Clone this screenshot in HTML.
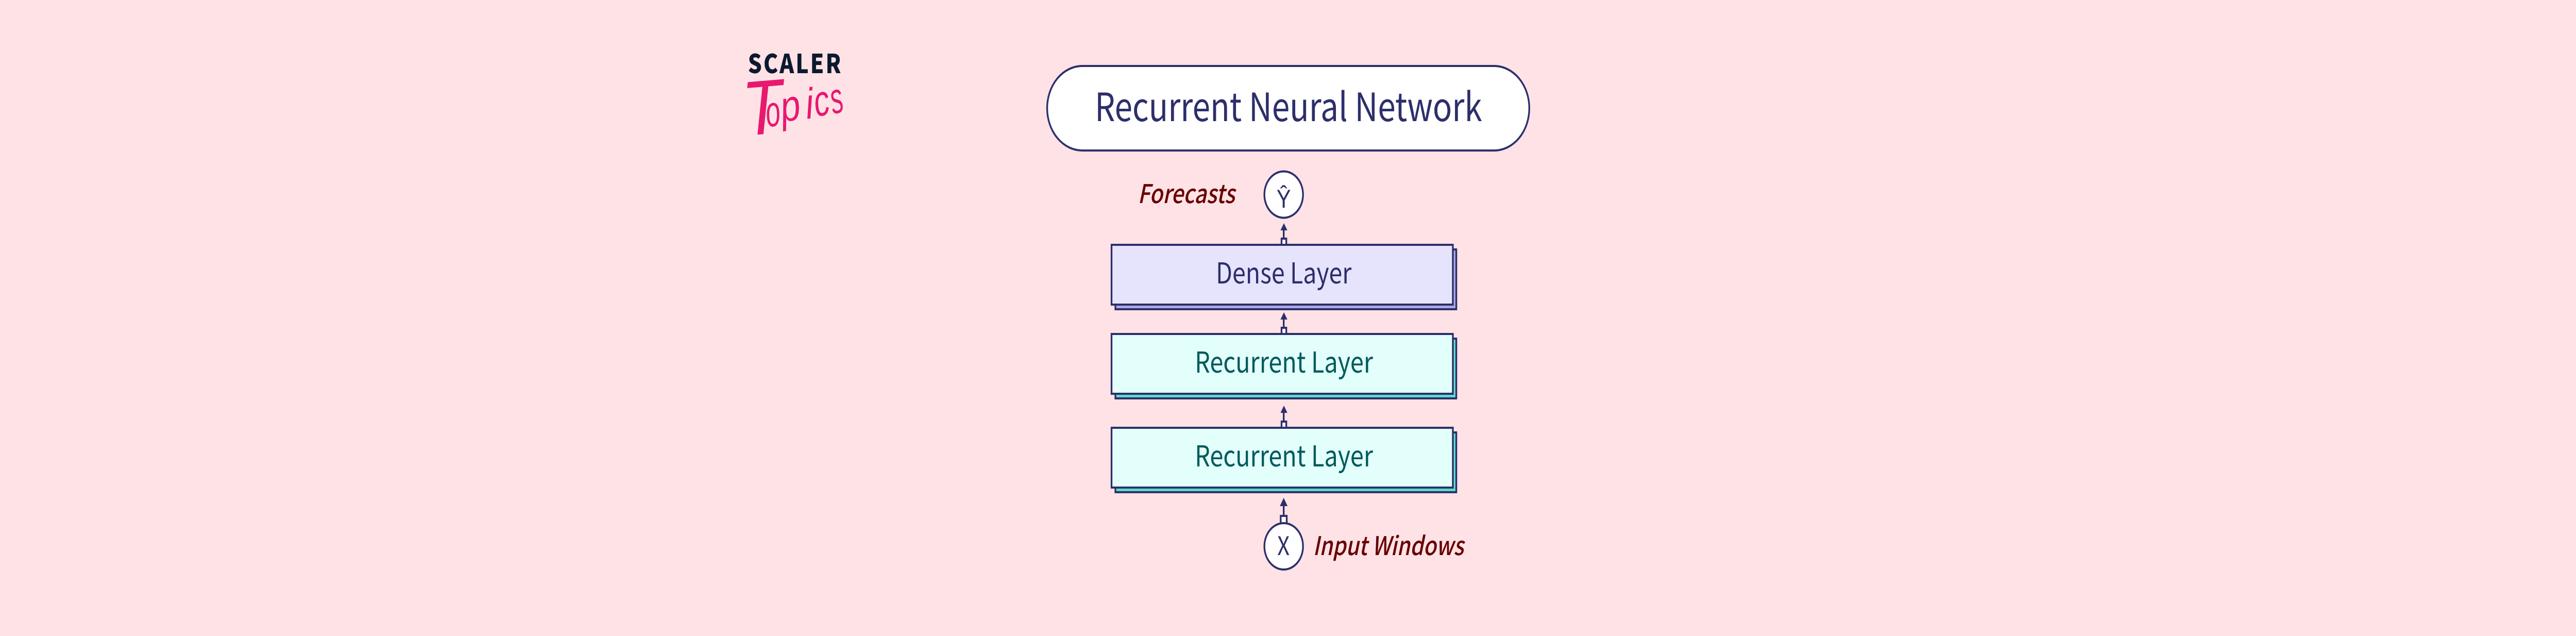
<!DOCTYPE html>
<html lang="en">
<head>
<meta charset="utf-8">
<title>Recurrent Neural Network</title>
<style>
html,body{margin:0;padding:0;width:100%;height:100%;overflow:hidden;background:#ffe2e6}
svg{display:block;width:100vw;height:100vh}
text{font-family:"Noto Sans CJK JP","Liberation Sans",sans-serif}
.s{font-family:"Liberation Sans",sans-serif;font-style:italic}
</style>
</head>
<body>
<svg xmlns="http://www.w3.org/2000/svg" viewBox="0 0 6000 1234" preserveAspectRatio="none">
<rect width="6000" height="1234" fill="#ffe2e6"/>

<!-- Logo -->
<text x="1742" y="142" font-size="51" font-weight="900" fill="#0b1a2e" textLength="217" lengthAdjust="spacing">SCALER</text>
<g fill="#e8186f">
  <text class="s" x="1729" y="260" font-size="150" transform="rotate(-4 1780 200)">T</text>
  <text class="s" x="1784" y="245" font-size="84" textLength="34" lengthAdjust="spacingAndGlyphs" transform="rotate(-8 1800 225)">o</text>
  <text class="s" x="1820" y="234" font-size="84" textLength="46" lengthAdjust="spacingAndGlyphs" transform="rotate(-10 1843 220)">p</text>
  <text class="s" x="1876" y="230" font-size="84" textLength="18" lengthAdjust="spacingAndGlyphs" transform="rotate(-6 1885 200)">i</text>
  <text class="s" x="1897" y="224" font-size="84" textLength="36" lengthAdjust="spacingAndGlyphs" transform="rotate(-12 1915 205)">c</text>
  <text class="s" x="1935" y="219" font-size="84" textLength="29" lengthAdjust="spacingAndGlyphs" transform="rotate(-14 1950 198)">s</text>
</g>

<!-- Title -->
<rect x="2439" y="128" width="1123" height="164" rx="82" ry="82" fill="#ffffff" stroke="#2d2f6b" stroke-width="4"/>
<text x="2550" y="235" font-size="76" fill="#2d2f6b" textLength="902" lengthAdjust="spacingAndGlyphs">Recurrent Neural Network</text>

<!-- Forecasts -->
<text x="2650" y="394" font-size="50" font-weight="500" font-style="italic" fill="#680000" textLength="226" lengthAdjust="spacingAndGlyphs">Forecasts</text>
<circle cx="2990" cy="377.5" r="45" fill="#ffffff" stroke="#2d2f6b" stroke-width="4"/>
<text x="2990" y="403" font-size="50" fill="#2d2f6b" text-anchor="middle">Ŷ</text>

<!-- Dense Layer -->
<rect x="2598" y="484" width="794" height="116" fill="#aca8e4" stroke="#2d2f6b" stroke-width="4"/>
<rect x="2589" y="475" width="795" height="116" fill="#e6e4fd" stroke="#2d2f6b" stroke-width="4"/>
<text x="2832" y="550" font-size="56" fill="#2d2f6b" textLength="316" lengthAdjust="spacingAndGlyphs">Dense Layer</text>

<!-- Recurrent Layer 1 -->
<rect x="2598" y="657" width="794" height="116" fill="#5bdccb" stroke="#2d2f6b" stroke-width="4"/>
<rect x="2589" y="648" width="795" height="116" fill="#e2fffb" stroke="#2d2f6b" stroke-width="4"/>
<text x="2783" y="723" font-size="56" fill="#005a5c" textLength="415" lengthAdjust="spacingAndGlyphs">Recurrent Layer</text>

<!-- Recurrent Layer 2 -->
<rect x="2598" y="839" width="794" height="116" fill="#5bdccb" stroke="#2d2f6b" stroke-width="4"/>
<rect x="2589" y="830" width="795" height="116" fill="#e2fffb" stroke="#2d2f6b" stroke-width="4"/>
<text x="2783" y="905" font-size="56" fill="#005a5c" textLength="415" lengthAdjust="spacingAndGlyphs">Recurrent Layer</text>

<!-- Connectors -->
<g stroke="#2d2f6b" stroke-width="4" fill="none">
  <line x1="2990" y1="445" x2="2990" y2="463"/>
  <rect x="2985" y="463" width="11" height="12" fill="#ffffff"/>
  <line x1="2990" y1="618" x2="2990" y2="636"/>
  <rect x="2985" y="636" width="11" height="12" fill="#ffffff"/>
  <line x1="2990" y1="799" x2="2990" y2="818"/>
  <rect x="2985" y="818" width="11" height="12" fill="#ffffff"/>
  <line x1="2990" y1="980" x2="2990" y2="1001"/>
  <rect x="2983" y="1001" width="14" height="15" fill="#ffffff"/>
</g>
<g fill="#2d2f6b">
  <polygon points="2990.5,433 2998.5,447 2982.5,447"/>
  <polygon points="2990.5,606 2998.5,620 2982.5,620"/>
  <polygon points="2990.5,787 2998.5,801 2982.5,801"/>
  <polygon points="2990,966 2999,982 2981,982"/>
</g>

<!-- Input -->
<circle cx="2990" cy="1060" r="45" fill="#ffffff" stroke="#2d2f6b" stroke-width="4"/>
<text x="2989.5" y="1077" font-size="50" fill="#2d2f6b" text-anchor="middle">X</text>
<text x="3058" y="1077" font-size="50" font-weight="500" font-style="italic" fill="#680000" textLength="351" lengthAdjust="spacingAndGlyphs">Input Windows</text>
</svg>
</body>
</html>
